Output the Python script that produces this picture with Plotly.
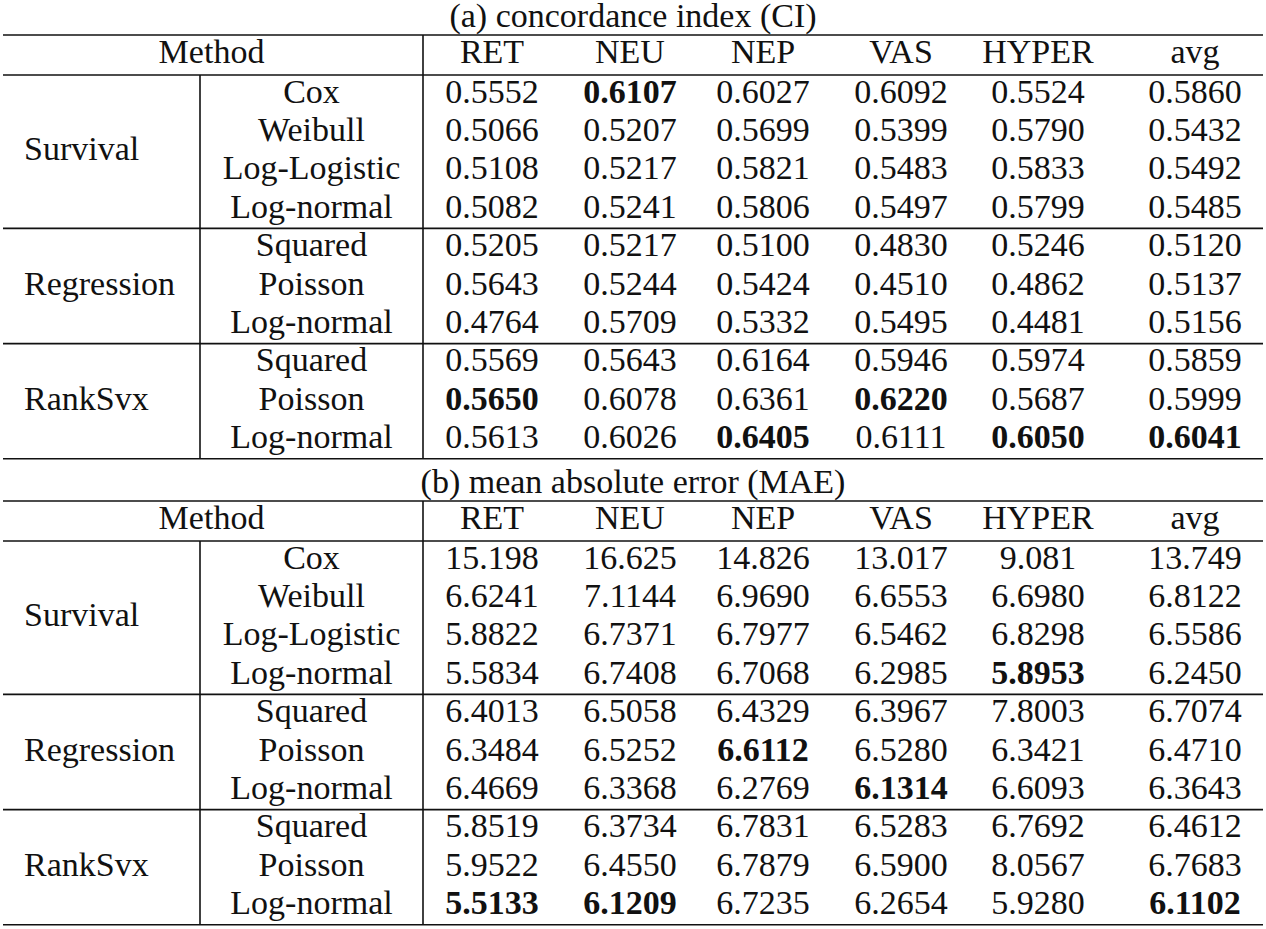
import plotly.graph_objects as go


COLUMNS = ['RET', 'NEU', 'NEP', 'VAS', 'HYPER', 'avg']
GROUPS = ['Survival', 'Regression', 'RankSvx']
METHODS = [
    ['Cox', 'Weibull', 'Log-Logistic', 'Log-normal'],
    ['Squared', 'Poisson', 'Log-normal'],
    ['Squared', 'Poisson', 'Log-normal'],
]

CI_TITLE = '(a) concordance index (CI)'
CI_VALUES = [
    [0.5552, 0.6107, 0.6027, 0.6092, 0.5524, 0.5860],
    [0.5066, 0.5207, 0.5699, 0.5399, 0.5790, 0.5432],
    [0.5108, 0.5217, 0.5821, 0.5483, 0.5833, 0.5492],
    [0.5082, 0.5241, 0.5806, 0.5497, 0.5799, 0.5485],
    [0.5205, 0.5217, 0.5100, 0.4830, 0.5246, 0.5120],
    [0.5643, 0.5244, 0.5424, 0.4510, 0.4862, 0.5137],
    [0.4764, 0.5709, 0.5332, 0.5495, 0.4481, 0.5156],
    [0.5569, 0.5643, 0.6164, 0.5946, 0.5974, 0.5859],
    [0.5650, 0.6078, 0.6361, 0.6220, 0.5687, 0.5999],
    [0.5613, 0.6026, 0.6405, 0.6111, 0.6050, 0.6041],
]
# (row, column) of the best value, printed in bold
CI_BEST = [(0, 1), (8, 0), (8, 3), (9, 2), (9, 4), (9, 5)]
CI_DECIMALS = [4] * 10

MAE_TITLE = '(b) mean absolute error (MAE)'
MAE_VALUES = [
    [15.198, 16.625, 14.826, 13.017, 9.081, 13.749],
    [6.6241, 7.1144, 6.9690, 6.6553, 6.6980, 6.8122],
    [5.8822, 6.7371, 6.7977, 6.5462, 6.8298, 6.5586],
    [5.5834, 6.7408, 6.7068, 6.2985, 5.8953, 6.2450],
    [6.4013, 6.5058, 6.4329, 6.3967, 7.8003, 6.7074],
    [6.3484, 6.5252, 6.6112, 6.5280, 6.3421, 6.4710],
    [6.4669, 6.3368, 6.2769, 6.1314, 6.6093, 6.3643],
    [5.8519, 6.3734, 6.7831, 6.5283, 6.7692, 6.4612],
    [5.9522, 6.4550, 6.7879, 6.5900, 8.0567, 6.7683],
    [5.5133, 6.1209, 6.7235, 6.2654, 5.9280, 6.1102],
]
MAE_BEST = [(3, 4), (5, 2), (6, 3), (9, 0), (9, 1), (9, 5)]
MAE_DECIMALS = [3] + [4] * 9

W, H = 1266, 929
FONT = '"Liberation Serif", "Times New Roman", Times, "DejaVu Serif", serif'
SIZE = 34
INK = '#111111'

# page layout (pixels)
LEFT, RIGHT = 3, 1263
GROUP_X = 24
METHOD_SPLIT = 200
DATA_SPLIT = 423
COL_X = [492, 630, 763, 901, 1038, 1195]
SECTION_OFFSET = 466
ROW_PITCH = 38.4


def section_layout(top):
    return dict(
        title=top + 18,
        rule_top=top + 35,
        header=top + 54,
        rule_head=top + 75,
        first=top + 94,
    )


def add_section(fig, shapes, top, title, values, best, decimals):
    lay = section_layout(top)
    row_y = [lay['first'] + ROW_PITCH * i for i in range(len(values))]

    xs, ys, texts = [], [], []
    xs.append((LEFT + RIGHT) / 2); ys.append(lay['title']); texts.append(title)
    xs.append(DATA_SPLIT / 2); ys.append(lay['header']); texts.append('Method')
    for c, name in enumerate(COLUMNS):
        xs.append(COL_X[c]); ys.append(lay['header']); texts.append(name)

    gx, gy, gt = [], [], []
    r = 0
    rules = [lay['rule_top'], lay['rule_head']]
    for g, group in enumerate(GROUPS):
        n = len(METHODS[g])
        gx.append(GROUP_X)
        gy.append(sum(row_y[r:r + n]) / n)
        gt.append(group)
        for k, method in enumerate(METHODS[g]):
            xs.append((METHOD_SPLIT + DATA_SPLIT) / 2); ys.append(row_y[r + k]); texts.append(method)
            for c in range(len(COLUMNS)):
                s = f'{values[r + k][c]:.{decimals[r + k]}f}'
                if (r + k, c) in best:
                    s = f'<b>{s}</b>'
                xs.append(COL_X[c]); ys.append(row_y[r + k]); texts.append(s)
        r += n
        rules.append(row_y[r - 1] + ROW_PITCH / 2)

    fig.add_trace(go.Scatter(
        x=xs, y=ys, text=texts, mode='text', textposition='middle center',
        textfont=dict(family=FONT, size=SIZE, color=INK), hoverinfo='skip',
        cliponaxis=False
    ))
    fig.add_trace(go.Scatter(
        x=gx, y=gy, text=gt, mode='text', textposition='middle right',
        textfont=dict(family=FONT, size=SIZE, color=INK), hoverinfo='skip',
        cliponaxis=False
    ))

    line = dict(color=INK, width=1.6)
    for y in rules:
        shapes.append(dict(type='line', x0=LEFT, x1=RIGHT, y0=y, y1=y, line=line))
    shapes.append(dict(type='line', x0=DATA_SPLIT, x1=DATA_SPLIT,
                       y0=lay['rule_top'], y1=rules[-1], line=line))
    shapes.append(dict(type='line', x0=METHOD_SPLIT, x1=METHOD_SPLIT,
                       y0=lay['rule_head'], y1=rules[-1], line=line))


def main():
    fig = go.Figure()
    shapes = []
    add_section(fig, shapes, 0, CI_TITLE, CI_VALUES, CI_BEST, CI_DECIMALS)
    add_section(fig, shapes, SECTION_OFFSET, MAE_TITLE, MAE_VALUES, MAE_BEST, MAE_DECIMALS)

    fig.update_layout(
        width=W, height=H,
        margin=dict(l=0, r=0, t=0, b=0),
        paper_bgcolor='white', plot_bgcolor='white',
        showlegend=False, shapes=shapes,
        font=dict(family=FONT),
    )
    fig.update_xaxes(range=[0, W], visible=False, fixedrange=True)
    fig.update_yaxes(range=[H, 0], visible=False, fixedrange=True)
    # drop the browser's default body margin so the figure sits at the page corner
    fig.write_html('out.html', config={'displayModeBar': False},
                   post_script="document.body.style.margin = '0';")


if __name__ == '__main__':
    main()
